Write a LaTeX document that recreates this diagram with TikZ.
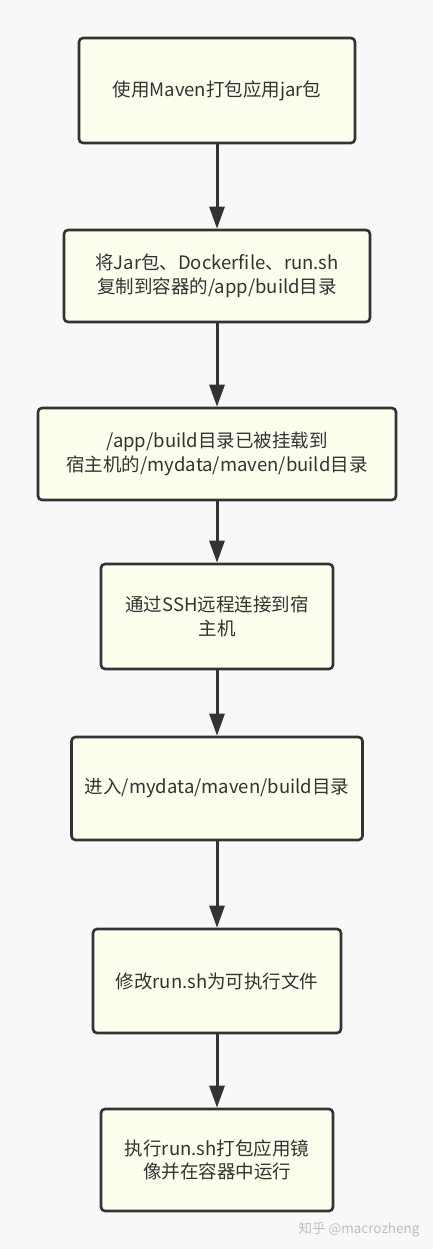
\documentclass[tikz,border=0pt]{standalone}
\usepackage{fontspec}
\setmainfont{Noto Sans CJK SC}
\usetikzlibrary{arrows.meta}
\definecolor{bgc}{HTML}{F8F8F8}
\definecolor{boxfill}{HTML}{FEFEEE}
\definecolor{ink}{HTML}{333333}
\tikzset{
  stepbox/.style={draw=ink, fill=boxfill, line width=2.6pt, rounded corners=4pt,
    text=ink, align=center, inner sep=0pt,
    font=\fontsize{18.5}{23.5}\selectfont},
  flow/.style={draw=ink, line width=3pt, -{Triangle[width=15pt,length=22pt]}}
}
\begin{document}
\begin{tikzpicture}[x=1pt,y=1pt]
\fill[bgc] (0,0) rectangle (433,-1249);
\useasboundingbox (0,0) rectangle (433,-1249);
\node[stepbox, minimum width=276pt, minimum height=105pt] (b1) at (217,-90.5) {使用Maven打包应用jar包};
\node[stepbox, minimum width=306pt, minimum height=92pt] (b2) at (217,-276) {将Jar包、Dockerfile、run.sh\\复制到容器的/app/build目录};
\node[stepbox, minimum width=358pt, minimum height=92pt] (b3) at (217,-454) {/app/build目录已被挂载到\\宿主机的/mydata/maven/build目录};
\node[stepbox, minimum width=232pt, minimum height=105pt] (b4) at (217,-616.5) {通过SSH远程连接到宿\\主机};
\node[stepbox, minimum width=291pt, minimum height=103pt] (b5) at (217,-788.5) {进入/mydata/maven/build目录};
\node[stepbox, minimum width=248pt, minimum height=104pt] (b6) at (217,-981) {修改run.sh为可执行文件};
\node[stepbox, minimum width=232pt, minimum height=102pt] (b7) at (217,-1160) {执行run.sh打包应用镜\\像并在容器中运行};
\draw[flow] (b1.south) -- (b2.north);
\draw[flow] (b2.south) -- (b3.north);
\draw[flow] (b3.south) -- (b4.north);
\draw[flow] (b4.south) -- (b5.north);
\draw[flow] (b5.south) -- (b6.north);
\draw[flow] (b6.south) -- (b7.north);
\node[text=black!25, font=\fontsize{13.5}{15}\selectfont] (wm) at (359,-1229) {知乎 @macrozheng};
\end{tikzpicture}
\end{document}
